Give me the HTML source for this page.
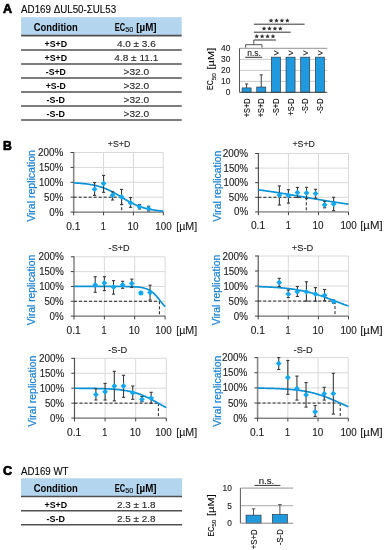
<!DOCTYPE html>
<html><head><meta charset="utf-8"><style>
html,body{margin:0;padding:0;background:#fff;}
svg{display:block;font-family:"Liberation Sans", sans-serif;filter:blur(0.35px);}
</style></head><body>
<svg width="386" height="550" viewBox="0 0 386 550">
<rect width="386" height="550" fill="#fff"/>
<text x="2.90" y="12.50" font-size="12.6" font-weight="bold" fill="#000" stroke="#000" stroke-width="0.7" stroke-linejoin="round">A</text>
<text x="3.00" y="149.90" font-size="12.2" font-weight="bold" fill="#000" stroke="#000" stroke-width="0.7" stroke-linejoin="round">B</text>
<text x="2.90" y="474.60" font-size="12.6" font-weight="bold" fill="#000" stroke="#000" stroke-width="0.7" stroke-linejoin="round">C</text>
<text x="21.10" y="13.20" font-size="10.2" textLength="95.00" lengthAdjust="spacingAndGlyphs" stroke="#262626" stroke-width="0.12">AD169 ΔUL50-ΣUL53</text>
<rect x="21.10" y="17.20" width="160.60" height="17.90" fill="#b3d5ee"/>
<line x1="21.10" y1="35.60" x2="181.70" y2="35.60" stroke="#505050" stroke-width="1.6"/>
<text x="55.75" y="30.70" font-size="10.3" font-weight="bold" text-anchor="middle" textLength="44.00" lengthAdjust="spacingAndGlyphs">Condition</text>
<text x="114.70" y="30.70" font-size="10.3" font-weight="bold" textLength="10.40" lengthAdjust="spacingAndGlyphs">EC</text>
<text x="125.20" y="31.60" font-size="7.0" textLength="8.00" lengthAdjust="spacingAndGlyphs" stroke="#262626" stroke-width="0.12">50</text>
<text x="136.30" y="30.70" font-size="10.3" font-weight="bold" textLength="20.20" lengthAdjust="spacingAndGlyphs">[µM]</text>
<text x="55.80" y="47.00" font-size="8.6" font-weight="bold" text-anchor="middle" textLength="22.60" lengthAdjust="spacingAndGlyphs">+S+D</text>
<text x="136.30" y="47.00" font-size="9.3" text-anchor="middle" fill="#262626" textLength="38.80" lengthAdjust="spacingAndGlyphs" stroke="#262626" stroke-width="0.12">4.0 ± 3.6</text>
<line x1="21.10" y1="49.90" x2="181.70" y2="49.90" stroke="#505050" stroke-width="1.5"/>
<text x="55.80" y="61.00" font-size="8.6" font-weight="bold" text-anchor="middle" textLength="22.60" lengthAdjust="spacingAndGlyphs">+S+D</text>
<text x="136.30" y="61.00" font-size="9.3" text-anchor="middle" fill="#262626" textLength="44.00" lengthAdjust="spacingAndGlyphs" stroke="#262626" stroke-width="0.12">4.8 ± 11.1</text>
<line x1="21.10" y1="63.90" x2="181.70" y2="63.90" stroke="#505050" stroke-width="1.5"/>
<text x="55.80" y="75.00" font-size="8.6" font-weight="bold" text-anchor="middle" textLength="20.10" lengthAdjust="spacingAndGlyphs">-S+D</text>
<text x="136.30" y="75.00" font-size="9.3" text-anchor="middle" fill="#262626" textLength="25.60" lengthAdjust="spacingAndGlyphs" stroke="#262626" stroke-width="0.12">&gt;32.0</text>
<line x1="21.10" y1="77.90" x2="181.70" y2="77.90" stroke="#505050" stroke-width="1.5"/>
<text x="55.80" y="89.00" font-size="8.6" font-weight="bold" text-anchor="middle" textLength="20.10" lengthAdjust="spacingAndGlyphs">+S-D</text>
<text x="136.30" y="89.00" font-size="9.3" text-anchor="middle" fill="#262626" textLength="25.60" lengthAdjust="spacingAndGlyphs" stroke="#262626" stroke-width="0.12">&gt;32.0</text>
<line x1="21.10" y1="91.90" x2="181.70" y2="91.90" stroke="#505050" stroke-width="1.5"/>
<text x="55.80" y="103.00" font-size="8.6" font-weight="bold" text-anchor="middle" textLength="18.40" lengthAdjust="spacingAndGlyphs">-S-D</text>
<text x="136.30" y="103.00" font-size="9.3" text-anchor="middle" fill="#262626" textLength="25.60" lengthAdjust="spacingAndGlyphs" stroke="#262626" stroke-width="0.12">&gt;32.0</text>
<line x1="21.10" y1="105.90" x2="181.70" y2="105.90" stroke="#505050" stroke-width="1.5"/>
<text x="55.80" y="117.00" font-size="8.6" font-weight="bold" text-anchor="middle" textLength="18.40" lengthAdjust="spacingAndGlyphs">-S-D</text>
<text x="136.30" y="117.00" font-size="9.3" text-anchor="middle" fill="#262626" textLength="25.60" lengthAdjust="spacingAndGlyphs" stroke="#262626" stroke-width="0.12">&gt;32.0</text>
<line x1="21.10" y1="119.90" x2="181.70" y2="119.90" stroke="#505050" stroke-width="1.5"/>
<text x="21.10" y="474.70" font-size="10.2" textLength="47.40" lengthAdjust="spacingAndGlyphs" stroke="#262626" stroke-width="0.12">AD169 WT</text>
<rect x="21.00" y="478.30" width="161.10" height="17.70" fill="#b3d5ee"/>
<line x1="21.00" y1="496.50" x2="182.10" y2="496.50" stroke="#505050" stroke-width="1.6"/>
<text x="55.75" y="491.60" font-size="10.3" font-weight="bold" text-anchor="middle" textLength="44.00" lengthAdjust="spacingAndGlyphs">Condition</text>
<text x="114.70" y="491.60" font-size="10.3" font-weight="bold" textLength="10.40" lengthAdjust="spacingAndGlyphs">EC</text>
<text x="125.20" y="492.50" font-size="7.0" textLength="8.00" lengthAdjust="spacingAndGlyphs" stroke="#262626" stroke-width="0.12">50</text>
<text x="136.30" y="491.60" font-size="10.3" font-weight="bold" textLength="20.20" lengthAdjust="spacingAndGlyphs">[µM]</text>
<text x="55.80" y="507.90" font-size="8.6" font-weight="bold" text-anchor="middle" textLength="22.60" lengthAdjust="spacingAndGlyphs">+S+D</text>
<text x="136.30" y="507.90" font-size="9.3" text-anchor="middle" fill="#262626" textLength="38.60" lengthAdjust="spacingAndGlyphs" stroke="#262626" stroke-width="0.12">2.3 ± 1.8</text>
<line x1="21.00" y1="510.80" x2="182.10" y2="510.80" stroke="#505050" stroke-width="1.5"/>
<text x="55.80" y="521.90" font-size="8.6" font-weight="bold" text-anchor="middle" textLength="18.40" lengthAdjust="spacingAndGlyphs">-S-D</text>
<text x="136.30" y="521.90" font-size="9.3" text-anchor="middle" fill="#262626" textLength="38.60" lengthAdjust="spacingAndGlyphs" stroke="#262626" stroke-width="0.12">2.5 ± 2.8</text>
<line x1="21.00" y1="524.80" x2="182.10" y2="524.80" stroke="#505050" stroke-width="1.5"/>
<line x1="239.50" y1="81.33" x2="327.20" y2="81.33" stroke="#c8c8c8" stroke-width="1"/>
<line x1="239.50" y1="70.35" x2="327.20" y2="70.35" stroke="#c8c8c8" stroke-width="1"/>
<line x1="239.50" y1="59.38" x2="327.20" y2="59.38" stroke="#c8c8c8" stroke-width="1"/>
<line x1="239.50" y1="48.40" x2="327.20" y2="48.40" stroke="#a8a8a8" stroke-width="1.4"/>
<text x="230.40" y="95.20" font-size="8.4" text-anchor="end" fill="#202020" stroke="#262626" stroke-width="0.12">0</text>
<text x="230.40" y="84.23" font-size="8.4" text-anchor="end" fill="#202020" stroke="#262626" stroke-width="0.12">10</text>
<text x="230.40" y="73.25" font-size="8.4" text-anchor="end" fill="#202020" stroke="#262626" stroke-width="0.12">20</text>
<text x="230.40" y="62.27" font-size="8.4" text-anchor="end" fill="#202020" stroke="#262626" stroke-width="0.12">30</text>
<text x="230.40" y="51.30" font-size="8.4" text-anchor="end" fill="#202020" stroke="#262626" stroke-width="0.12">40</text>
<text transform="translate(213.30,89.90) rotate(-90)" font-size="9.9" textLength="9.60" lengthAdjust="spacingAndGlyphs" stroke="#262626" stroke-width="0.12">EC</text>
<text transform="translate(215.60,80.30) rotate(-90)" font-size="6.0" textLength="7.20" lengthAdjust="spacingAndGlyphs" stroke="#262626" stroke-width="0.12">50</text>
<text transform="translate(213.60,69.50) rotate(-90)" font-size="9.5" textLength="21.70" lengthAdjust="spacingAndGlyphs" stroke="#262626" stroke-width="0.12">[µM]</text>
<line x1="246.60" y1="87.91" x2="246.60" y2="83.96" stroke="#404040" stroke-width="1"/>
<line x1="245.00" y1="83.96" x2="248.20" y2="83.96" stroke="#404040" stroke-width="1"/>
<rect x="242.10" y="87.91" width="9" height="4.39" fill="#1f9ade" stroke="#2a3b4c" stroke-width="0.7"/>
<text transform="translate(249.80,98.50) rotate(-90)" font-size="8.5" text-anchor="end" textLength="18.80" lengthAdjust="spacingAndGlyphs" stroke="#262626" stroke-width="0.12">+S+D</text>
<line x1="261.25" y1="87.03" x2="261.25" y2="74.85" stroke="#404040" stroke-width="1"/>
<line x1="259.65" y1="74.85" x2="262.85" y2="74.85" stroke="#404040" stroke-width="1"/>
<rect x="256.75" y="87.03" width="9" height="5.27" fill="#1f9ade" stroke="#2a3b4c" stroke-width="0.7"/>
<text transform="translate(264.45,98.50) rotate(-90)" font-size="8.5" text-anchor="end" textLength="18.80" lengthAdjust="spacingAndGlyphs" stroke="#262626" stroke-width="0.12">+S+D</text>
<rect x="271.40" y="57.18" width="9" height="35.12" fill="#1f9ade" stroke="#2a3b4c" stroke-width="0.7"/>
<text transform="translate(279.10,98.50) rotate(-90)" font-size="8.5" text-anchor="end" textLength="17.00" lengthAdjust="spacingAndGlyphs" stroke="#262626" stroke-width="0.12">-S+D</text>
<text x="276.30" y="55.80" font-size="8.6" text-anchor="middle" fill="#202020" textLength="5.20" lengthAdjust="spacingAndGlyphs" stroke="#262626" stroke-width="0.12">&gt;</text>
<rect x="286.05" y="57.18" width="9" height="35.12" fill="#1f9ade" stroke="#2a3b4c" stroke-width="0.7"/>
<text transform="translate(293.75,98.50) rotate(-90)" font-size="8.5" text-anchor="end" textLength="17.00" lengthAdjust="spacingAndGlyphs" stroke="#262626" stroke-width="0.12">+S-D</text>
<text x="290.95" y="55.80" font-size="8.6" text-anchor="middle" fill="#202020" textLength="5.20" lengthAdjust="spacingAndGlyphs" stroke="#262626" stroke-width="0.12">&gt;</text>
<rect x="300.70" y="57.18" width="9" height="35.12" fill="#1f9ade" stroke="#2a3b4c" stroke-width="0.7"/>
<text transform="translate(308.40,98.50) rotate(-90)" font-size="8.5" text-anchor="end" textLength="15.00" lengthAdjust="spacingAndGlyphs" stroke="#262626" stroke-width="0.12">-S-D</text>
<text x="305.60" y="55.80" font-size="8.6" text-anchor="middle" fill="#202020" textLength="5.20" lengthAdjust="spacingAndGlyphs" stroke="#262626" stroke-width="0.12">&gt;</text>
<rect x="315.35" y="57.18" width="9" height="35.12" fill="#1f9ade" stroke="#2a3b4c" stroke-width="0.7"/>
<text transform="translate(323.05,98.50) rotate(-90)" font-size="8.5" text-anchor="end" textLength="15.00" lengthAdjust="spacingAndGlyphs" stroke="#262626" stroke-width="0.12">-S-D</text>
<text x="320.25" y="55.80" font-size="8.6" text-anchor="middle" fill="#202020" textLength="5.20" lengthAdjust="spacingAndGlyphs" stroke="#262626" stroke-width="0.12">&gt;</text>
<line x1="239.50" y1="48.40" x2="239.50" y2="92.30" stroke="#555" stroke-width="1"/>
<line x1="239.50" y1="92.30" x2="327.20" y2="92.30" stroke="#404040" stroke-width="1"/>
<text x="254.00" y="55.90" font-size="8.6" text-anchor="middle" fill="#202020" textLength="13.60" lengthAdjust="spacingAndGlyphs" stroke="#262626" stroke-width="0.12">n.s.</text>
<line x1="245.20" y1="57.30" x2="262.20" y2="57.30" stroke="#333" stroke-width="1"/>
<path d="M245.6,47.6 V44.7 H262.0 V47.6 M253.8,44.7 V40" fill="none" stroke="#444" stroke-width="0.9"/>
<line x1="253.80" y1="40.00" x2="275.90" y2="40.00" stroke="#333" stroke-width="1"/>
<polygon points="256.70,34.00 257.41,35.43 258.98,35.66 257.84,36.77 258.11,38.34 256.70,37.60 255.29,38.34 255.56,36.77 254.42,35.66 255.99,35.43" fill="#333"/>
<polygon points="262.13,34.00 262.84,35.43 264.41,35.66 263.27,36.77 263.54,38.34 262.13,37.60 260.72,38.34 260.99,36.77 259.85,35.66 261.42,35.43" fill="#333"/>
<polygon points="267.56,34.00 268.27,35.43 269.84,35.66 268.70,36.77 268.97,38.34 267.56,37.60 266.15,38.34 266.42,36.77 265.28,35.66 266.85,35.43" fill="#333"/>
<polygon points="272.99,34.00 273.70,35.43 275.27,35.66 274.13,36.77 274.40,38.34 272.99,37.60 271.58,38.34 271.85,36.77 270.71,35.66 272.28,35.43" fill="#333"/>
<line x1="253.80" y1="32.20" x2="290.60" y2="32.20" stroke="#333" stroke-width="1"/>
<polygon points="264.05,26.20 264.76,27.63 266.33,27.86 265.19,28.97 265.46,30.54 264.05,29.80 262.64,30.54 262.91,28.97 261.77,27.86 263.34,27.63" fill="#333"/>
<polygon points="269.48,26.20 270.19,27.63 271.76,27.86 270.62,28.97 270.89,30.54 269.48,29.80 268.07,30.54 268.34,28.97 267.20,27.86 268.77,27.63" fill="#333"/>
<polygon points="274.91,26.20 275.62,27.63 277.19,27.86 276.05,28.97 276.32,30.54 274.91,29.80 273.50,30.54 273.77,28.97 272.63,27.86 274.20,27.63" fill="#333"/>
<polygon points="280.34,26.20 281.05,27.63 282.62,27.86 281.48,28.97 281.75,30.54 280.34,29.80 278.93,30.54 279.20,28.97 278.06,27.86 279.63,27.63" fill="#333"/>
<line x1="253.80" y1="24.20" x2="304.60" y2="24.20" stroke="#333" stroke-width="1"/>
<polygon points="271.05,18.20 271.76,19.63 273.33,19.86 272.19,20.97 272.46,22.54 271.05,21.80 269.64,22.54 269.91,20.97 268.77,19.86 270.34,19.63" fill="#333"/>
<polygon points="276.48,18.20 277.19,19.63 278.76,19.86 277.62,20.97 277.89,22.54 276.48,21.80 275.07,22.54 275.34,20.97 274.20,19.86 275.77,19.63" fill="#333"/>
<polygon points="281.91,18.20 282.62,19.63 284.19,19.86 283.05,20.97 283.32,22.54 281.91,21.80 280.50,22.54 280.77,20.97 279.63,19.86 281.20,19.63" fill="#333"/>
<polygon points="287.34,18.20 288.05,19.63 289.62,19.86 288.48,20.97 288.75,22.54 287.34,21.80 285.93,22.54 286.20,20.97 285.06,19.86 286.63,19.63" fill="#333"/>
<line x1="240.40" y1="505.70" x2="293.10" y2="505.70" stroke="#a8a8a8" stroke-width="1"/>
<line x1="240.40" y1="488.20" x2="293.10" y2="488.20" stroke="#a8a8a8" stroke-width="1.2"/>
<text x="231.90" y="526.10" font-size="8.4" text-anchor="end" fill="#202020" stroke="#262626" stroke-width="0.12">0</text>
<text x="231.90" y="508.60" font-size="8.4" text-anchor="end" fill="#202020" stroke="#262626" stroke-width="0.12">5</text>
<text x="231.90" y="491.10" font-size="8.4" text-anchor="end" fill="#202020" stroke="#262626" stroke-width="0.12">10</text>
<text transform="translate(213.90,536.40) rotate(-90)" font-size="9.9" textLength="9.60" lengthAdjust="spacingAndGlyphs" stroke="#262626" stroke-width="0.12">EC</text>
<text transform="translate(216.20,526.80) rotate(-90)" font-size="6.0" textLength="7.20" lengthAdjust="spacingAndGlyphs" stroke="#262626" stroke-width="0.12">50</text>
<text transform="translate(214.20,516.00) rotate(-90)" font-size="9.5" textLength="21.70" lengthAdjust="spacingAndGlyphs" stroke="#262626" stroke-width="0.12">[µM]</text>
<line x1="253.55" y1="515.15" x2="253.55" y2="508.85" stroke="#505050" stroke-width="1"/>
<line x1="251.75" y1="508.85" x2="255.35" y2="508.85" stroke="#505050" stroke-width="1"/>
<rect x="246.05" y="515.15" width="15" height="8.05" fill="#1f9ade" stroke="#2a3b4c" stroke-width="0.7"/>
<text transform="translate(256.85,529.30) rotate(-90)" font-size="8.6" text-anchor="end" textLength="20.00" lengthAdjust="spacingAndGlyphs" stroke="#262626" stroke-width="0.12">+S+D</text>
<line x1="279.90" y1="514.45" x2="279.90" y2="504.65" stroke="#505050" stroke-width="1"/>
<line x1="278.10" y1="504.65" x2="281.70" y2="504.65" stroke="#505050" stroke-width="1"/>
<rect x="272.40" y="514.45" width="15" height="8.75" fill="#1f9ade" stroke="#2a3b4c" stroke-width="0.7"/>
<text transform="translate(283.20,529.30) rotate(-90)" font-size="8.6" text-anchor="end" textLength="15.80" lengthAdjust="spacingAndGlyphs" stroke="#262626" stroke-width="0.12">-S-D</text>
<line x1="240.40" y1="488.20" x2="240.40" y2="523.20" stroke="#555" stroke-width="1"/>
<line x1="240.40" y1="523.20" x2="293.10" y2="523.20" stroke="#888" stroke-width="1"/>
<text x="266.50" y="483.80" font-size="8.6" text-anchor="middle" fill="#202020" textLength="15.60" lengthAdjust="spacingAndGlyphs" stroke="#262626" stroke-width="0.12">n.s.</text>
<line x1="254.40" y1="485.40" x2="280.40" y2="485.40" stroke="#333" stroke-width="1"/>
<line x1="73.70" y1="197.20" x2="163.30" y2="197.20" stroke="#d9d9d9" stroke-width="1"/>
<line x1="73.70" y1="182.30" x2="163.30" y2="182.30" stroke="#d9d9d9" stroke-width="1"/>
<line x1="73.70" y1="167.40" x2="163.30" y2="167.40" stroke="#d9d9d9" stroke-width="1"/>
<line x1="73.70" y1="152.50" x2="163.30" y2="152.50" stroke="#d9d9d9" stroke-width="1"/>
<line x1="103.57" y1="152.50" x2="103.57" y2="212.10" stroke="#d9d9d9" stroke-width="1"/>
<line x1="133.43" y1="152.50" x2="133.43" y2="212.10" stroke="#d9d9d9" stroke-width="1"/>
<line x1="163.30" y1="152.50" x2="163.30" y2="212.10" stroke="#d9d9d9" stroke-width="1"/>
<line x1="73.70" y1="152.00" x2="73.70" y2="212.60" stroke="#8a8a8a" stroke-width="1.6"/>
<line x1="73.70" y1="212.10" x2="163.30" y2="212.10" stroke="#4a4a4a" stroke-width="1.0"/>
<line x1="70.50" y1="212.10" x2="73.70" y2="212.10" stroke="#404040" stroke-width="1"/>
<line x1="70.50" y1="197.20" x2="73.70" y2="197.20" stroke="#404040" stroke-width="1"/>
<line x1="70.50" y1="182.30" x2="73.70" y2="182.30" stroke="#404040" stroke-width="1"/>
<line x1="70.50" y1="167.40" x2="73.70" y2="167.40" stroke="#404040" stroke-width="1"/>
<line x1="70.50" y1="152.50" x2="73.70" y2="152.50" stroke="#404040" stroke-width="1"/>
<line x1="73.70" y1="212.10" x2="73.70" y2="215.40" stroke="#404040" stroke-width="1"/>
<line x1="103.57" y1="212.10" x2="103.57" y2="215.40" stroke="#404040" stroke-width="1"/>
<line x1="133.43" y1="212.10" x2="133.43" y2="215.40" stroke="#404040" stroke-width="1"/>
<line x1="163.30" y1="212.10" x2="163.30" y2="215.40" stroke="#404040" stroke-width="1"/>
<text x="63.40" y="215.60" font-size="10.0" text-anchor="end" fill="#202020" textLength="14.10" lengthAdjust="spacingAndGlyphs" stroke="#262626" stroke-width="0.12">0%</text>
<text x="63.40" y="200.70" font-size="10.0" text-anchor="end" fill="#202020" textLength="19.30" lengthAdjust="spacingAndGlyphs" stroke="#262626" stroke-width="0.12">50%</text>
<text x="63.40" y="185.80" font-size="10.0" text-anchor="end" fill="#202020" textLength="24.50" lengthAdjust="spacingAndGlyphs" stroke="#262626" stroke-width="0.12">100%</text>
<text x="63.40" y="170.90" font-size="10.0" text-anchor="end" fill="#202020" textLength="24.50" lengthAdjust="spacingAndGlyphs" stroke="#262626" stroke-width="0.12">150%</text>
<text x="63.40" y="156.00" font-size="10.0" text-anchor="end" fill="#202020" textLength="25.30" lengthAdjust="spacingAndGlyphs" stroke="#262626" stroke-width="0.12">200%</text>
<text x="73.30" y="229.50" font-size="10.0" text-anchor="middle" fill="#202020" textLength="14.20" lengthAdjust="spacingAndGlyphs" stroke="#262626" stroke-width="0.12">0.1</text>
<text x="103.27" y="229.50" font-size="10.0" text-anchor="middle" fill="#202020" textLength="5.00" lengthAdjust="spacingAndGlyphs" stroke="#262626" stroke-width="0.12">1</text>
<text x="133.03" y="229.50" font-size="10.0" text-anchor="middle" fill="#202020" textLength="11.00" lengthAdjust="spacingAndGlyphs" stroke="#262626" stroke-width="0.12">10</text>
<text x="163.50" y="229.50" font-size="10.0" text-anchor="middle" fill="#202020" textLength="16.40" lengthAdjust="spacingAndGlyphs" stroke="#262626" stroke-width="0.12">100</text>
<text x="176.20" y="229.50" font-size="10.0" fill="#202020" textLength="21.00" lengthAdjust="spacingAndGlyphs" stroke="#262626" stroke-width="0.12">[µM]</text>
<text x="119.00" y="147.10" font-size="9.8" text-anchor="middle" fill="#202020" textLength="22.50" lengthAdjust="spacingAndGlyphs" stroke="#262626" stroke-width="0.12">+S+D</text>
<text transform="translate(34.70,185.95) rotate(-90)" font-size="10.2" text-anchor="middle" fill="#1a80d2" textLength="71.70" lengthAdjust="spacingAndGlyphs" stroke="#1a80d2" stroke-width="0.2">Viral replication</text>
<line x1="73.70" y1="197.20" x2="121.70" y2="197.20" stroke="#222" stroke-width="1" stroke-dasharray="3,2"/>
<line x1="121.70" y1="197.20" x2="121.70" y2="212.10" stroke="#222" stroke-width="1" stroke-dasharray="3,2"/>
<polyline points="73.70,182.91 74.45,182.94 75.19,182.98 75.94,183.02 76.69,183.07 77.43,183.12 78.18,183.16 78.93,183.22 79.67,183.27 80.42,183.33 81.17,183.39 81.91,183.46 82.66,183.53 83.41,183.60 84.15,183.68 84.90,183.76 85.65,183.85 86.39,183.94 87.14,184.03 87.89,184.13 88.63,184.24 89.38,184.35 90.13,184.47 90.87,184.60 91.62,184.73 92.37,184.87 93.11,185.01 93.86,185.16 94.61,185.32 95.35,185.49 96.10,185.67 96.85,185.85 97.59,186.05 98.34,186.25 99.09,186.46 99.83,186.68 100.58,186.91 101.33,187.15 102.07,187.40 102.82,187.67 103.57,187.94 104.31,188.22 105.06,188.51 105.81,188.81 106.55,189.12 107.30,189.45 108.05,189.78 108.79,190.13 109.54,190.48 110.29,190.84 111.03,191.22 111.78,191.60 112.53,191.99 113.27,192.39 114.02,192.80 114.77,193.21 115.51,193.63 116.26,194.06 117.01,194.49 117.75,194.93 118.50,195.37 119.25,195.82 119.99,196.26 120.74,196.71 121.49,197.16 122.23,197.61 122.98,198.06 123.73,198.51 124.47,198.96 125.22,199.40 125.97,199.84 126.71,200.27 127.46,200.70 128.21,201.12 128.95,201.54 129.70,201.95 130.45,202.35 131.19,202.74 131.94,203.12 132.69,203.50 133.43,203.86 134.18,204.22 134.93,204.56 135.67,204.90 136.42,205.22 137.17,205.54 137.91,205.84 138.66,206.13 139.41,206.42 140.15,206.69 140.90,206.95 141.65,207.21 142.39,207.45 143.14,207.68 143.89,207.90 144.63,208.12 145.38,208.32 146.13,208.52 146.87,208.70 147.62,208.88 148.37,209.05 149.11,209.21 149.86,209.36 150.61,209.51 151.35,209.65 152.10,209.78 152.85,209.91 153.59,210.03 154.34,210.14 155.09,210.25 155.83,210.35 156.58,210.45 157.33,210.54 158.07,210.63 158.82,210.71 159.57,210.79 160.31,210.86 161.06,210.93 161.81,211.00 162.55,211.06 163.30,211.12" fill="none" stroke="#0b93d8" stroke-width="1.7"/>
<line x1="94.58" y1="182.60" x2="94.58" y2="195.40" stroke="#3a3a3a" stroke-width="1.1"/>
<line x1="92.98" y1="182.60" x2="96.18" y2="182.60" stroke="#3a3a3a" stroke-width="1.1"/>
<line x1="92.98" y1="195.40" x2="96.18" y2="195.40" stroke="#3a3a3a" stroke-width="1.1"/>
<polygon points="94.58,186.30 97.48,189.20 94.58,192.10 91.68,189.20" fill="#12a7ee"/>
<line x1="103.57" y1="175.40" x2="103.57" y2="192.30" stroke="#3a3a3a" stroke-width="1.1"/>
<line x1="101.97" y1="175.40" x2="105.17" y2="175.40" stroke="#3a3a3a" stroke-width="1.1"/>
<line x1="101.97" y1="192.30" x2="105.17" y2="192.30" stroke="#3a3a3a" stroke-width="1.1"/>
<polygon points="103.57,180.60 106.47,183.50 103.57,186.40 100.67,183.50" fill="#12a7ee"/>
<line x1="112.56" y1="191.80" x2="112.56" y2="200.00" stroke="#3a3a3a" stroke-width="1.1"/>
<line x1="110.96" y1="191.80" x2="114.16" y2="191.80" stroke="#3a3a3a" stroke-width="1.1"/>
<line x1="110.96" y1="200.00" x2="114.16" y2="200.00" stroke="#3a3a3a" stroke-width="1.1"/>
<polygon points="112.56,192.30 115.46,195.20 112.56,198.10 109.66,195.20" fill="#12a7ee"/>
<line x1="121.55" y1="189.40" x2="121.55" y2="204.60" stroke="#3a3a3a" stroke-width="1.1"/>
<line x1="119.95" y1="189.40" x2="123.15" y2="189.40" stroke="#3a3a3a" stroke-width="1.1"/>
<line x1="119.95" y1="204.60" x2="123.15" y2="204.60" stroke="#3a3a3a" stroke-width="1.1"/>
<polygon points="121.55,194.00 124.45,196.90 121.55,199.80 118.65,196.90" fill="#12a7ee"/>
<line x1="130.54" y1="197.60" x2="130.54" y2="207.30" stroke="#3a3a3a" stroke-width="1.1"/>
<line x1="128.94" y1="197.60" x2="132.14" y2="197.60" stroke="#3a3a3a" stroke-width="1.1"/>
<line x1="128.94" y1="207.30" x2="132.14" y2="207.30" stroke="#3a3a3a" stroke-width="1.1"/>
<polygon points="130.54,199.90 133.44,202.80 130.54,205.70 127.64,202.80" fill="#12a7ee"/>
<line x1="139.53" y1="204.50" x2="139.53" y2="209.00" stroke="#3a3a3a" stroke-width="1.1"/>
<line x1="137.93" y1="204.50" x2="141.13" y2="204.50" stroke="#3a3a3a" stroke-width="1.1"/>
<line x1="137.93" y1="209.00" x2="141.13" y2="209.00" stroke="#3a3a3a" stroke-width="1.1"/>
<polygon points="139.53,203.90 142.43,206.80 139.53,209.70 136.63,206.80" fill="#12a7ee"/>
<line x1="148.52" y1="206.20" x2="148.52" y2="210.90" stroke="#3a3a3a" stroke-width="1.1"/>
<line x1="146.92" y1="206.20" x2="150.12" y2="206.20" stroke="#3a3a3a" stroke-width="1.1"/>
<line x1="146.92" y1="210.90" x2="150.12" y2="210.90" stroke="#3a3a3a" stroke-width="1.1"/>
<polygon points="148.52,205.70 151.42,208.60 148.52,211.50 145.62,208.60" fill="#12a7ee"/>
<line x1="258.40" y1="197.30" x2="348.50" y2="197.30" stroke="#d9d9d9" stroke-width="1"/>
<line x1="258.40" y1="182.70" x2="348.50" y2="182.70" stroke="#d9d9d9" stroke-width="1"/>
<line x1="258.40" y1="168.10" x2="348.50" y2="168.10" stroke="#d9d9d9" stroke-width="1"/>
<line x1="258.40" y1="153.50" x2="348.50" y2="153.50" stroke="#d9d9d9" stroke-width="1"/>
<line x1="288.43" y1="153.50" x2="288.43" y2="211.90" stroke="#d9d9d9" stroke-width="1"/>
<line x1="318.47" y1="153.50" x2="318.47" y2="211.90" stroke="#d9d9d9" stroke-width="1"/>
<line x1="348.50" y1="153.50" x2="348.50" y2="211.90" stroke="#d9d9d9" stroke-width="1"/>
<line x1="258.40" y1="153.00" x2="258.40" y2="212.40" stroke="#4a4a4a" stroke-width="1.1"/>
<line x1="258.40" y1="211.90" x2="348.50" y2="211.90" stroke="#a0a0a0" stroke-width="1.7"/>
<line x1="255.20" y1="211.90" x2="258.40" y2="211.90" stroke="#404040" stroke-width="1"/>
<line x1="255.20" y1="197.30" x2="258.40" y2="197.30" stroke="#404040" stroke-width="1"/>
<line x1="255.20" y1="182.70" x2="258.40" y2="182.70" stroke="#404040" stroke-width="1"/>
<line x1="255.20" y1="168.10" x2="258.40" y2="168.10" stroke="#404040" stroke-width="1"/>
<line x1="255.20" y1="153.50" x2="258.40" y2="153.50" stroke="#404040" stroke-width="1"/>
<line x1="258.40" y1="211.90" x2="258.40" y2="215.20" stroke="#404040" stroke-width="1"/>
<line x1="288.43" y1="211.90" x2="288.43" y2="215.20" stroke="#404040" stroke-width="1"/>
<line x1="318.47" y1="211.90" x2="318.47" y2="215.20" stroke="#404040" stroke-width="1"/>
<line x1="348.50" y1="211.90" x2="348.50" y2="215.20" stroke="#404040" stroke-width="1"/>
<text x="248.10" y="215.40" font-size="10.0" text-anchor="end" fill="#202020" textLength="14.10" lengthAdjust="spacingAndGlyphs" stroke="#262626" stroke-width="0.12">0%</text>
<text x="248.10" y="200.80" font-size="10.0" text-anchor="end" fill="#202020" textLength="19.30" lengthAdjust="spacingAndGlyphs" stroke="#262626" stroke-width="0.12">50%</text>
<text x="248.10" y="186.20" font-size="10.0" text-anchor="end" fill="#202020" textLength="24.50" lengthAdjust="spacingAndGlyphs" stroke="#262626" stroke-width="0.12">100%</text>
<text x="248.10" y="171.60" font-size="10.0" text-anchor="end" fill="#202020" textLength="24.50" lengthAdjust="spacingAndGlyphs" stroke="#262626" stroke-width="0.12">150%</text>
<text x="248.10" y="157.00" font-size="10.0" text-anchor="end" fill="#202020" textLength="25.30" lengthAdjust="spacingAndGlyphs" stroke="#262626" stroke-width="0.12">200%</text>
<text x="258.00" y="229.30" font-size="10.0" text-anchor="middle" fill="#202020" textLength="14.20" lengthAdjust="spacingAndGlyphs" stroke="#262626" stroke-width="0.12">0.1</text>
<text x="288.13" y="229.30" font-size="10.0" text-anchor="middle" fill="#202020" textLength="5.00" lengthAdjust="spacingAndGlyphs" stroke="#262626" stroke-width="0.12">1</text>
<text x="318.07" y="229.30" font-size="10.0" text-anchor="middle" fill="#202020" textLength="11.00" lengthAdjust="spacingAndGlyphs" stroke="#262626" stroke-width="0.12">10</text>
<text x="348.60" y="229.30" font-size="10.0" text-anchor="middle" fill="#202020" textLength="16.40" lengthAdjust="spacingAndGlyphs" stroke="#262626" stroke-width="0.12">100</text>
<text x="360.20" y="229.30" font-size="10.0" fill="#202020" textLength="22.40" lengthAdjust="spacingAndGlyphs" stroke="#262626" stroke-width="0.12">[µM]</text>
<text x="303.70" y="147.10" font-size="9.8" text-anchor="middle" fill="#202020" textLength="22.50" lengthAdjust="spacingAndGlyphs" stroke="#262626" stroke-width="0.12">+S+D</text>
<text transform="translate(220.50,186.20) rotate(-90)" font-size="10.2" text-anchor="middle" fill="#1a80d2" textLength="71.20" lengthAdjust="spacingAndGlyphs" stroke="#1a80d2" stroke-width="0.2">Viral replication</text>
<line x1="258.40" y1="197.30" x2="306.30" y2="197.30" stroke="#222" stroke-width="1" stroke-dasharray="3,2"/>
<line x1="306.30" y1="197.30" x2="306.30" y2="211.90" stroke="#222" stroke-width="1" stroke-dasharray="3,2"/>
<polyline points="258.40,189.86 259.15,189.96 259.90,190.06 260.65,190.16 261.40,190.26 262.15,190.36 262.90,190.46 263.66,190.56 264.41,190.66 265.16,190.77 265.91,190.87 266.66,190.98 267.41,191.08 268.16,191.19 268.91,191.30 269.66,191.41 270.41,191.52 271.16,191.63 271.91,191.74 272.67,191.85 273.42,191.96 274.17,192.08 274.92,192.19 275.67,192.30 276.42,192.42 277.17,192.54 277.92,192.65 278.67,192.77 279.42,192.89 280.17,193.01 280.93,193.13 281.68,193.25 282.43,193.37 283.18,193.49 283.93,193.61 284.68,193.73 285.43,193.85 286.18,193.98 286.93,194.10 287.68,194.23 288.43,194.35 289.18,194.48 289.94,194.60 290.69,194.73 291.44,194.85 292.19,194.98 292.94,195.11 293.69,195.23 294.44,195.36 295.19,195.49 295.94,195.62 296.69,195.75 297.44,195.88 298.19,196.01 298.94,196.14 299.70,196.26 300.45,196.39 301.20,196.52 301.95,196.65 302.70,196.78 303.45,196.91 304.20,197.04 304.95,197.17 305.70,197.31 306.45,197.44 307.20,197.57 307.95,197.70 308.71,197.83 309.46,197.96 310.21,198.09 310.96,198.22 311.71,198.35 312.46,198.47 313.21,198.60 313.96,198.73 314.71,198.86 315.46,198.99 316.21,199.12 316.96,199.25 317.72,199.38 318.47,199.50 319.22,199.63 319.97,199.76 320.72,199.88 321.47,200.01 322.22,200.13 322.97,200.26 323.72,200.38 324.47,200.51 325.22,200.63 325.98,200.76 326.73,200.88 327.48,201.00 328.23,201.12 328.98,201.24 329.73,201.36 330.48,201.48 331.23,201.60 331.98,201.72 332.73,201.84 333.48,201.96 334.23,202.07 334.99,202.19 335.74,202.30 336.49,202.42 337.24,202.53 337.99,202.65 338.74,202.76 339.49,202.87 340.24,202.98 340.99,203.09 341.74,203.20 342.49,203.31 343.24,203.42 344.00,203.52 344.75,203.63 345.50,203.74 346.25,203.84 347.00,203.94 347.75,204.05 348.50,204.15" fill="none" stroke="#0b93d8" stroke-width="1.7"/>
<line x1="279.39" y1="185.90" x2="279.39" y2="205.00" stroke="#3a3a3a" stroke-width="1.1"/>
<line x1="277.79" y1="185.90" x2="280.99" y2="185.90" stroke="#3a3a3a" stroke-width="1.1"/>
<line x1="277.79" y1="205.00" x2="280.99" y2="205.00" stroke="#3a3a3a" stroke-width="1.1"/>
<polygon points="279.39,192.30 282.29,195.20 279.39,198.10 276.49,195.20" fill="#12a7ee"/>
<line x1="288.43" y1="189.70" x2="288.43" y2="203.10" stroke="#3a3a3a" stroke-width="1.1"/>
<line x1="286.83" y1="189.70" x2="290.03" y2="189.70" stroke="#3a3a3a" stroke-width="1.1"/>
<line x1="286.83" y1="203.10" x2="290.03" y2="203.10" stroke="#3a3a3a" stroke-width="1.1"/>
<polygon points="288.43,192.70 291.33,195.60 288.43,198.50 285.53,195.60" fill="#12a7ee"/>
<line x1="297.47" y1="187.40" x2="297.47" y2="197.40" stroke="#3a3a3a" stroke-width="1.1"/>
<line x1="295.87" y1="187.40" x2="299.07" y2="187.40" stroke="#3a3a3a" stroke-width="1.1"/>
<line x1="295.87" y1="197.40" x2="299.07" y2="197.40" stroke="#3a3a3a" stroke-width="1.1"/>
<polygon points="297.47,189.70 300.37,192.60 297.47,195.50 294.57,192.60" fill="#12a7ee"/>
<line x1="306.52" y1="187.30" x2="306.52" y2="198.60" stroke="#3a3a3a" stroke-width="1.1"/>
<line x1="304.92" y1="187.30" x2="308.12" y2="187.30" stroke="#3a3a3a" stroke-width="1.1"/>
<line x1="304.92" y1="198.60" x2="308.12" y2="198.60" stroke="#3a3a3a" stroke-width="1.1"/>
<polygon points="306.52,190.10 309.42,193.00 306.52,195.90 303.62,193.00" fill="#12a7ee"/>
<line x1="315.56" y1="189.30" x2="315.56" y2="198.20" stroke="#3a3a3a" stroke-width="1.1"/>
<line x1="313.96" y1="189.30" x2="317.16" y2="189.30" stroke="#3a3a3a" stroke-width="1.1"/>
<line x1="313.96" y1="198.20" x2="317.16" y2="198.20" stroke="#3a3a3a" stroke-width="1.1"/>
<polygon points="315.56,190.70 318.46,193.60 315.56,196.50 312.66,193.60" fill="#12a7ee"/>
<line x1="324.60" y1="201.30" x2="324.60" y2="207.80" stroke="#3a3a3a" stroke-width="1.1"/>
<line x1="323.00" y1="201.30" x2="326.20" y2="201.30" stroke="#3a3a3a" stroke-width="1.1"/>
<line x1="323.00" y1="207.80" x2="326.20" y2="207.80" stroke="#3a3a3a" stroke-width="1.1"/>
<polygon points="324.60,201.90 327.50,204.80 324.60,207.70 321.70,204.80" fill="#12a7ee"/>
<line x1="333.64" y1="197.30" x2="333.64" y2="210.70" stroke="#3a3a3a" stroke-width="1.1"/>
<line x1="332.04" y1="197.30" x2="335.24" y2="197.30" stroke="#3a3a3a" stroke-width="1.1"/>
<line x1="332.04" y1="210.70" x2="335.24" y2="210.70" stroke="#3a3a3a" stroke-width="1.1"/>
<polygon points="333.64,201.10 336.54,204.00 333.64,206.90 330.74,204.00" fill="#12a7ee"/>
<line x1="74.00" y1="301.28" x2="165.10" y2="301.28" stroke="#d9d9d9" stroke-width="1"/>
<line x1="74.00" y1="286.45" x2="165.10" y2="286.45" stroke="#d9d9d9" stroke-width="1"/>
<line x1="74.00" y1="271.62" x2="165.10" y2="271.62" stroke="#d9d9d9" stroke-width="1"/>
<line x1="74.00" y1="256.80" x2="165.10" y2="256.80" stroke="#d9d9d9" stroke-width="1"/>
<line x1="104.37" y1="256.80" x2="104.37" y2="316.10" stroke="#d9d9d9" stroke-width="1"/>
<line x1="134.73" y1="256.80" x2="134.73" y2="316.10" stroke="#d9d9d9" stroke-width="1"/>
<line x1="165.10" y1="256.80" x2="165.10" y2="316.10" stroke="#d9d9d9" stroke-width="1"/>
<line x1="74.00" y1="256.30" x2="74.00" y2="316.60" stroke="#999999" stroke-width="1.8"/>
<line x1="74.00" y1="316.10" x2="165.10" y2="316.10" stroke="#4a4a4a" stroke-width="1.0"/>
<line x1="70.80" y1="316.10" x2="74.00" y2="316.10" stroke="#404040" stroke-width="1"/>
<line x1="70.80" y1="301.28" x2="74.00" y2="301.28" stroke="#404040" stroke-width="1"/>
<line x1="70.80" y1="286.45" x2="74.00" y2="286.45" stroke="#404040" stroke-width="1"/>
<line x1="70.80" y1="271.62" x2="74.00" y2="271.62" stroke="#404040" stroke-width="1"/>
<line x1="70.80" y1="256.80" x2="74.00" y2="256.80" stroke="#404040" stroke-width="1"/>
<line x1="74.00" y1="316.10" x2="74.00" y2="319.40" stroke="#404040" stroke-width="1"/>
<line x1="104.37" y1="316.10" x2="104.37" y2="319.40" stroke="#404040" stroke-width="1"/>
<line x1="134.73" y1="316.10" x2="134.73" y2="319.40" stroke="#404040" stroke-width="1"/>
<line x1="165.10" y1="316.10" x2="165.10" y2="319.40" stroke="#404040" stroke-width="1"/>
<text x="63.70" y="319.60" font-size="10.0" text-anchor="end" fill="#202020" textLength="14.10" lengthAdjust="spacingAndGlyphs" stroke="#262626" stroke-width="0.12">0%</text>
<text x="63.70" y="304.78" font-size="10.0" text-anchor="end" fill="#202020" textLength="19.30" lengthAdjust="spacingAndGlyphs" stroke="#262626" stroke-width="0.12">50%</text>
<text x="63.70" y="289.95" font-size="10.0" text-anchor="end" fill="#202020" textLength="24.50" lengthAdjust="spacingAndGlyphs" stroke="#262626" stroke-width="0.12">100%</text>
<text x="63.70" y="275.12" font-size="10.0" text-anchor="end" fill="#202020" textLength="24.50" lengthAdjust="spacingAndGlyphs" stroke="#262626" stroke-width="0.12">150%</text>
<text x="63.70" y="260.30" font-size="10.0" text-anchor="end" fill="#202020" textLength="25.30" lengthAdjust="spacingAndGlyphs" stroke="#262626" stroke-width="0.12">200%</text>
<text x="73.60" y="333.50" font-size="10.0" text-anchor="middle" fill="#202020" textLength="14.20" lengthAdjust="spacingAndGlyphs" stroke="#262626" stroke-width="0.12">0.1</text>
<text x="104.07" y="333.50" font-size="10.0" text-anchor="middle" fill="#202020" textLength="5.00" lengthAdjust="spacingAndGlyphs" stroke="#262626" stroke-width="0.12">1</text>
<text x="134.33" y="333.50" font-size="10.0" text-anchor="middle" fill="#202020" textLength="11.00" lengthAdjust="spacingAndGlyphs" stroke="#262626" stroke-width="0.12">10</text>
<text x="163.50" y="333.50" font-size="10.0" text-anchor="middle" fill="#202020" textLength="16.40" lengthAdjust="spacingAndGlyphs" stroke="#262626" stroke-width="0.12">100</text>
<text x="176.20" y="333.50" font-size="10.0" fill="#202020" textLength="21.00" lengthAdjust="spacingAndGlyphs" stroke="#262626" stroke-width="0.12">[µM]</text>
<text x="119.10" y="251.40" font-size="9.8" text-anchor="middle" fill="#202020" textLength="21.00" lengthAdjust="spacingAndGlyphs" stroke="#262626" stroke-width="0.12">-S+D</text>
<text transform="translate(35.30,290.00) rotate(-90)" font-size="10.2" text-anchor="middle" fill="#1a80d2" textLength="70.40" lengthAdjust="spacingAndGlyphs" stroke="#1a80d2" stroke-width="0.2">Viral replication</text>
<line x1="74.00" y1="301.28" x2="159.40" y2="301.28" stroke="#222" stroke-width="1" stroke-dasharray="3,2"/>
<line x1="159.40" y1="301.28" x2="159.40" y2="316.10" stroke="#222" stroke-width="1" stroke-dasharray="3,2"/>
<polyline points="74.00,286.45 74.76,286.45 75.52,286.45 76.28,286.45 77.04,286.45 77.80,286.45 78.55,286.45 79.31,286.45 80.07,286.45 80.83,286.45 81.59,286.45 82.35,286.45 83.11,286.45 83.87,286.45 84.63,286.45 85.39,286.45 86.15,286.45 86.91,286.45 87.66,286.45 88.42,286.45 89.18,286.45 89.94,286.45 90.70,286.45 91.46,286.45 92.22,286.45 92.98,286.45 93.74,286.45 94.50,286.45 95.26,286.45 96.02,286.45 96.78,286.45 97.53,286.45 98.29,286.45 99.05,286.45 99.81,286.45 100.57,286.45 101.33,286.45 102.09,286.45 102.85,286.45 103.61,286.45 104.37,286.45 105.13,286.45 105.88,286.45 106.64,286.45 107.40,286.45 108.16,286.45 108.92,286.45 109.68,286.45 110.44,286.46 111.20,286.46 111.96,286.46 112.72,286.46 113.48,286.46 114.24,286.46 115.00,286.46 115.75,286.46 116.51,286.46 117.27,286.47 118.03,286.47 118.79,286.47 119.55,286.47 120.31,286.48 121.07,286.48 121.83,286.49 122.59,286.49 123.35,286.50 124.10,286.50 124.86,286.51 125.62,286.52 126.38,286.53 127.14,286.54 127.90,286.55 128.66,286.57 129.42,286.58 130.18,286.60 130.94,286.63 131.70,286.65 132.46,286.68 133.22,286.71 133.97,286.74 134.73,286.79 135.49,286.83 136.25,286.89 137.01,286.95 137.77,287.01 138.53,287.09 139.29,287.18 140.05,287.28 140.81,287.39 141.57,287.52 142.32,287.66 143.08,287.82 143.84,288.01 144.60,288.21 145.36,288.44 146.12,288.70 146.88,288.99 147.64,289.31 148.40,289.67 149.16,290.06 149.92,290.50 150.68,290.98 151.44,291.51 152.19,292.08 152.95,292.71 153.71,293.38 154.47,294.10 155.23,294.87 155.99,295.68 156.75,296.53 157.51,297.42 158.27,298.35 159.03,299.29 159.79,300.25 160.55,301.23 161.30,302.20 162.06,303.16 162.82,304.11 163.58,305.03 164.34,305.93 165.10,306.79" fill="none" stroke="#0b93d8" stroke-width="1.7"/>
<line x1="95.23" y1="276.70" x2="95.23" y2="292.30" stroke="#3a3a3a" stroke-width="1.1"/>
<line x1="93.63" y1="276.70" x2="96.83" y2="276.70" stroke="#3a3a3a" stroke-width="1.1"/>
<line x1="93.63" y1="292.30" x2="96.83" y2="292.30" stroke="#3a3a3a" stroke-width="1.1"/>
<polygon points="95.23,281.90 98.13,284.80 95.23,287.70 92.33,284.80" fill="#12a7ee"/>
<line x1="104.37" y1="276.70" x2="104.37" y2="290.60" stroke="#3a3a3a" stroke-width="1.1"/>
<line x1="102.77" y1="276.70" x2="105.97" y2="276.70" stroke="#3a3a3a" stroke-width="1.1"/>
<line x1="102.77" y1="290.60" x2="105.97" y2="290.60" stroke="#3a3a3a" stroke-width="1.1"/>
<polygon points="104.37,280.10 107.27,283.00 104.37,285.90 101.47,283.00" fill="#12a7ee"/>
<line x1="113.51" y1="280.60" x2="113.51" y2="294.10" stroke="#3a3a3a" stroke-width="1.1"/>
<line x1="111.91" y1="280.60" x2="115.11" y2="280.60" stroke="#3a3a3a" stroke-width="1.1"/>
<line x1="111.91" y1="294.10" x2="115.11" y2="294.10" stroke="#3a3a3a" stroke-width="1.1"/>
<polygon points="113.51,284.20 116.41,287.10 113.51,290.00 110.61,287.10" fill="#12a7ee"/>
<line x1="122.65" y1="281.30" x2="122.65" y2="288.30" stroke="#3a3a3a" stroke-width="1.1"/>
<line x1="121.05" y1="281.30" x2="124.25" y2="281.30" stroke="#3a3a3a" stroke-width="1.1"/>
<line x1="121.05" y1="288.30" x2="124.25" y2="288.30" stroke="#3a3a3a" stroke-width="1.1"/>
<polygon points="122.65,281.90 125.55,284.80 122.65,287.70 119.75,284.80" fill="#12a7ee"/>
<line x1="131.79" y1="279.10" x2="131.79" y2="287.50" stroke="#3a3a3a" stroke-width="1.1"/>
<line x1="130.19" y1="279.10" x2="133.39" y2="279.10" stroke="#3a3a3a" stroke-width="1.1"/>
<line x1="130.19" y1="287.50" x2="133.39" y2="287.50" stroke="#3a3a3a" stroke-width="1.1"/>
<polygon points="131.79,280.50 134.69,283.40 131.79,286.30 128.89,283.40" fill="#12a7ee"/>
<circle cx="140.93" cy="293.00" r="2.5" fill="#12a7ee"/>
<line x1="150.07" y1="285.20" x2="150.07" y2="300.10" stroke="#3a3a3a" stroke-width="1.1"/>
<line x1="148.47" y1="285.20" x2="151.67" y2="285.20" stroke="#3a3a3a" stroke-width="1.1"/>
<line x1="148.47" y1="300.10" x2="151.67" y2="300.10" stroke="#3a3a3a" stroke-width="1.1"/>
<polygon points="150.07,289.60 152.97,292.50 150.07,295.40 147.17,292.50" fill="#12a7ee"/>
<line x1="258.20" y1="301.08" x2="348.50" y2="301.08" stroke="#d9d9d9" stroke-width="1"/>
<line x1="258.20" y1="286.05" x2="348.50" y2="286.05" stroke="#d9d9d9" stroke-width="1"/>
<line x1="258.20" y1="271.02" x2="348.50" y2="271.02" stroke="#d9d9d9" stroke-width="1"/>
<line x1="258.20" y1="256.00" x2="348.50" y2="256.00" stroke="#d9d9d9" stroke-width="1"/>
<line x1="288.30" y1="256.00" x2="288.30" y2="316.10" stroke="#d9d9d9" stroke-width="1"/>
<line x1="318.40" y1="256.00" x2="318.40" y2="316.10" stroke="#d9d9d9" stroke-width="1"/>
<line x1="348.50" y1="256.00" x2="348.50" y2="316.10" stroke="#d9d9d9" stroke-width="1"/>
<line x1="258.20" y1="255.50" x2="258.20" y2="316.60" stroke="#4a4a4a" stroke-width="1.1"/>
<line x1="258.20" y1="316.10" x2="348.50" y2="316.10" stroke="#4a4a4a" stroke-width="1.0"/>
<line x1="255.00" y1="316.10" x2="258.20" y2="316.10" stroke="#404040" stroke-width="1"/>
<line x1="255.00" y1="301.08" x2="258.20" y2="301.08" stroke="#404040" stroke-width="1"/>
<line x1="255.00" y1="286.05" x2="258.20" y2="286.05" stroke="#404040" stroke-width="1"/>
<line x1="255.00" y1="271.02" x2="258.20" y2="271.02" stroke="#404040" stroke-width="1"/>
<line x1="255.00" y1="256.00" x2="258.20" y2="256.00" stroke="#404040" stroke-width="1"/>
<line x1="258.20" y1="316.10" x2="258.20" y2="319.40" stroke="#404040" stroke-width="1"/>
<line x1="288.30" y1="316.10" x2="288.30" y2="319.40" stroke="#404040" stroke-width="1"/>
<line x1="318.40" y1="316.10" x2="318.40" y2="319.40" stroke="#404040" stroke-width="1"/>
<line x1="348.50" y1="316.10" x2="348.50" y2="319.40" stroke="#404040" stroke-width="1"/>
<text x="247.90" y="319.60" font-size="10.0" text-anchor="end" fill="#202020" textLength="14.10" lengthAdjust="spacingAndGlyphs" stroke="#262626" stroke-width="0.12">0%</text>
<text x="247.90" y="304.58" font-size="10.0" text-anchor="end" fill="#202020" textLength="19.30" lengthAdjust="spacingAndGlyphs" stroke="#262626" stroke-width="0.12">50%</text>
<text x="247.90" y="289.55" font-size="10.0" text-anchor="end" fill="#202020" textLength="24.50" lengthAdjust="spacingAndGlyphs" stroke="#262626" stroke-width="0.12">100%</text>
<text x="247.90" y="274.52" font-size="10.0" text-anchor="end" fill="#202020" textLength="24.50" lengthAdjust="spacingAndGlyphs" stroke="#262626" stroke-width="0.12">150%</text>
<text x="247.90" y="259.50" font-size="10.0" text-anchor="end" fill="#202020" textLength="25.30" lengthAdjust="spacingAndGlyphs" stroke="#262626" stroke-width="0.12">200%</text>
<text x="257.80" y="333.50" font-size="10.0" text-anchor="middle" fill="#202020" textLength="14.20" lengthAdjust="spacingAndGlyphs" stroke="#262626" stroke-width="0.12">0.1</text>
<text x="288.00" y="333.50" font-size="10.0" text-anchor="middle" fill="#202020" textLength="5.00" lengthAdjust="spacingAndGlyphs" stroke="#262626" stroke-width="0.12">1</text>
<text x="318.00" y="333.50" font-size="10.0" text-anchor="middle" fill="#202020" textLength="11.00" lengthAdjust="spacingAndGlyphs" stroke="#262626" stroke-width="0.12">10</text>
<text x="348.60" y="333.50" font-size="10.0" text-anchor="middle" fill="#202020" textLength="16.40" lengthAdjust="spacingAndGlyphs" stroke="#262626" stroke-width="0.12">100</text>
<text x="360.20" y="333.50" font-size="10.0" fill="#202020" textLength="22.40" lengthAdjust="spacingAndGlyphs" stroke="#262626" stroke-width="0.12">[µM]</text>
<text x="302.50" y="251.00" font-size="9.8" text-anchor="middle" fill="#202020" textLength="21.50" lengthAdjust="spacingAndGlyphs" stroke="#262626" stroke-width="0.12">+S-D</text>
<text transform="translate(219.80,290.00) rotate(-90)" font-size="10.2" text-anchor="middle" fill="#1a80d2" textLength="70.40" lengthAdjust="spacingAndGlyphs" stroke="#1a80d2" stroke-width="0.2">Viral replication</text>
<line x1="258.20" y1="301.08" x2="335.00" y2="301.08" stroke="#222" stroke-width="1" stroke-dasharray="3,2"/>
<line x1="335.00" y1="301.08" x2="335.00" y2="316.10" stroke="#222" stroke-width="1" stroke-dasharray="3,2"/>
<polyline points="258.20,286.63 258.95,286.65 259.70,286.67 260.46,286.70 261.21,286.72 261.96,286.75 262.71,286.78 263.47,286.80 264.22,286.83 264.97,286.86 265.72,286.89 266.48,286.92 267.23,286.96 267.98,286.99 268.74,287.03 269.49,287.07 270.24,287.10 270.99,287.14 271.75,287.18 272.50,287.23 273.25,287.27 274.00,287.32 274.75,287.37 275.51,287.41 276.26,287.47 277.01,287.52 277.76,287.57 278.52,287.63 279.27,287.69 280.02,287.75 280.77,287.81 281.53,287.88 282.28,287.94 283.03,288.01 283.78,288.08 284.54,288.16 285.29,288.24 286.04,288.31 286.80,288.40 287.55,288.48 288.30,288.57 289.05,288.66 289.81,288.75 290.56,288.85 291.31,288.95 292.06,289.05 292.81,289.15 293.57,289.26 294.32,289.37 295.07,289.49 295.82,289.61 296.58,289.73 297.33,289.86 298.08,289.99 298.83,290.12 299.59,290.26 300.34,290.40 301.09,290.54 301.84,290.69 302.60,290.85 303.35,291.00 304.10,291.16 304.86,291.33 305.61,291.50 306.36,291.67 307.11,291.85 307.87,292.03 308.62,292.22 309.37,292.41 310.12,292.60 310.88,292.80 311.63,293.01 312.38,293.21 313.13,293.43 313.88,293.64 314.64,293.86 315.39,294.09 316.14,294.32 316.89,294.55 317.65,294.78 318.40,295.02 319.15,295.27 319.90,295.52 320.66,295.77 321.41,296.02 322.16,296.28 322.91,296.54 323.67,296.80 324.42,297.07 325.17,297.34 325.93,297.61 326.68,297.89 327.43,298.16 328.18,298.44 328.94,298.72 329.69,299.01 330.44,299.29 331.19,299.58 331.94,299.86 332.70,300.15 333.45,300.44 334.20,300.73 334.95,301.02 335.71,301.30 336.46,301.59 337.21,301.88 337.97,302.17 338.72,302.46 339.47,302.74 340.22,303.03 340.98,303.31 341.73,303.59 342.48,303.87 343.23,304.15 343.99,304.43 344.74,304.70 345.49,304.97 346.24,305.24 347.00,305.50 347.75,305.77 348.50,306.02" fill="none" stroke="#0b93d8" stroke-width="1.7"/>
<line x1="279.24" y1="278.30" x2="279.24" y2="286.50" stroke="#3a3a3a" stroke-width="1.1"/>
<line x1="277.64" y1="278.30" x2="280.84" y2="278.30" stroke="#3a3a3a" stroke-width="1.1"/>
<line x1="277.64" y1="286.50" x2="280.84" y2="286.50" stroke="#3a3a3a" stroke-width="1.1"/>
<polygon points="279.24,279.60 282.14,282.50 279.24,285.40 276.34,282.50" fill="#12a7ee"/>
<line x1="288.30" y1="290.00" x2="288.30" y2="297.60" stroke="#3a3a3a" stroke-width="1.1"/>
<line x1="286.70" y1="290.00" x2="289.90" y2="290.00" stroke="#3a3a3a" stroke-width="1.1"/>
<line x1="286.70" y1="297.60" x2="289.90" y2="297.60" stroke="#3a3a3a" stroke-width="1.1"/>
<polygon points="288.30,291.20 291.20,294.10 288.30,297.00 285.40,294.10" fill="#12a7ee"/>
<line x1="297.36" y1="286.50" x2="297.36" y2="296.50" stroke="#3a3a3a" stroke-width="1.1"/>
<line x1="295.76" y1="286.50" x2="298.96" y2="286.50" stroke="#3a3a3a" stroke-width="1.1"/>
<line x1="295.76" y1="296.50" x2="298.96" y2="296.50" stroke="#3a3a3a" stroke-width="1.1"/>
<polygon points="297.36,288.90 300.26,291.80 297.36,294.70 294.46,291.80" fill="#12a7ee"/>
<line x1="306.42" y1="281.80" x2="306.42" y2="301.10" stroke="#3a3a3a" stroke-width="1.1"/>
<line x1="304.82" y1="281.80" x2="308.02" y2="281.80" stroke="#3a3a3a" stroke-width="1.1"/>
<line x1="304.82" y1="301.10" x2="308.02" y2="301.10" stroke="#3a3a3a" stroke-width="1.1"/>
<polygon points="306.42,288.90 309.32,291.80 306.42,294.70 303.52,291.80" fill="#12a7ee"/>
<line x1="315.48" y1="287.60" x2="315.48" y2="301.10" stroke="#3a3a3a" stroke-width="1.1"/>
<line x1="313.88" y1="287.60" x2="317.08" y2="287.60" stroke="#3a3a3a" stroke-width="1.1"/>
<line x1="313.88" y1="301.10" x2="317.08" y2="301.10" stroke="#3a3a3a" stroke-width="1.1"/>
<polygon points="315.48,291.20 318.38,294.10 315.48,297.00 312.58,294.10" fill="#12a7ee"/>
<line x1="324.54" y1="289.50" x2="324.54" y2="300.70" stroke="#3a3a3a" stroke-width="1.1"/>
<line x1="322.94" y1="289.50" x2="326.14" y2="289.50" stroke="#3a3a3a" stroke-width="1.1"/>
<line x1="322.94" y1="300.70" x2="326.14" y2="300.70" stroke="#3a3a3a" stroke-width="1.1"/>
<polygon points="324.54,292.40 327.44,295.30 324.54,298.20 321.64,295.30" fill="#12a7ee"/>
<line x1="333.61" y1="300.00" x2="333.61" y2="303.20" stroke="#3a3a3a" stroke-width="1.1"/>
<line x1="332.01" y1="300.00" x2="335.21" y2="300.00" stroke="#3a3a3a" stroke-width="1.1"/>
<line x1="332.01" y1="303.20" x2="335.21" y2="303.20" stroke="#3a3a3a" stroke-width="1.1"/>
<polygon points="333.61,298.70 336.51,301.60 333.61,304.50 330.71,301.60" fill="#12a7ee"/>
<line x1="74.50" y1="403.15" x2="166.30" y2="403.15" stroke="#d9d9d9" stroke-width="1"/>
<line x1="74.50" y1="388.20" x2="166.30" y2="388.20" stroke="#d9d9d9" stroke-width="1"/>
<line x1="74.50" y1="373.25" x2="166.30" y2="373.25" stroke="#d9d9d9" stroke-width="1"/>
<line x1="74.50" y1="358.30" x2="166.30" y2="358.30" stroke="#d9d9d9" stroke-width="1"/>
<line x1="105.10" y1="358.30" x2="105.10" y2="418.10" stroke="#d9d9d9" stroke-width="1"/>
<line x1="135.70" y1="358.30" x2="135.70" y2="418.10" stroke="#d9d9d9" stroke-width="1"/>
<line x1="166.30" y1="358.30" x2="166.30" y2="418.10" stroke="#d9d9d9" stroke-width="1"/>
<line x1="74.50" y1="357.80" x2="74.50" y2="418.60" stroke="#555555" stroke-width="1.2"/>
<line x1="74.50" y1="418.10" x2="166.30" y2="418.10" stroke="#4a4a4a" stroke-width="1.0"/>
<line x1="71.30" y1="418.10" x2="74.50" y2="418.10" stroke="#404040" stroke-width="1"/>
<line x1="71.30" y1="403.15" x2="74.50" y2="403.15" stroke="#404040" stroke-width="1"/>
<line x1="71.30" y1="388.20" x2="74.50" y2="388.20" stroke="#404040" stroke-width="1"/>
<line x1="71.30" y1="373.25" x2="74.50" y2="373.25" stroke="#404040" stroke-width="1"/>
<line x1="71.30" y1="358.30" x2="74.50" y2="358.30" stroke="#404040" stroke-width="1"/>
<line x1="74.50" y1="418.10" x2="74.50" y2="421.40" stroke="#404040" stroke-width="1"/>
<line x1="105.10" y1="418.10" x2="105.10" y2="421.40" stroke="#404040" stroke-width="1"/>
<line x1="135.70" y1="418.10" x2="135.70" y2="421.40" stroke="#404040" stroke-width="1"/>
<line x1="166.30" y1="418.10" x2="166.30" y2="421.40" stroke="#404040" stroke-width="1"/>
<text x="64.20" y="421.60" font-size="10.0" text-anchor="end" fill="#202020" textLength="14.10" lengthAdjust="spacingAndGlyphs" stroke="#262626" stroke-width="0.12">0%</text>
<text x="64.20" y="406.65" font-size="10.0" text-anchor="end" fill="#202020" textLength="19.30" lengthAdjust="spacingAndGlyphs" stroke="#262626" stroke-width="0.12">50%</text>
<text x="64.20" y="391.70" font-size="10.0" text-anchor="end" fill="#202020" textLength="24.50" lengthAdjust="spacingAndGlyphs" stroke="#262626" stroke-width="0.12">100%</text>
<text x="64.20" y="376.75" font-size="10.0" text-anchor="end" fill="#202020" textLength="24.50" lengthAdjust="spacingAndGlyphs" stroke="#262626" stroke-width="0.12">150%</text>
<text x="64.20" y="361.80" font-size="10.0" text-anchor="end" fill="#202020" textLength="25.30" lengthAdjust="spacingAndGlyphs" stroke="#262626" stroke-width="0.12">200%</text>
<text x="74.10" y="435.50" font-size="10.0" text-anchor="middle" fill="#202020" textLength="14.20" lengthAdjust="spacingAndGlyphs" stroke="#262626" stroke-width="0.12">0.1</text>
<text x="104.80" y="435.50" font-size="10.0" text-anchor="middle" fill="#202020" textLength="5.00" lengthAdjust="spacingAndGlyphs" stroke="#262626" stroke-width="0.12">1</text>
<text x="135.30" y="435.50" font-size="10.0" text-anchor="middle" fill="#202020" textLength="11.00" lengthAdjust="spacingAndGlyphs" stroke="#262626" stroke-width="0.12">10</text>
<text x="163.50" y="435.50" font-size="10.0" text-anchor="middle" fill="#202020" textLength="16.40" lengthAdjust="spacingAndGlyphs" stroke="#262626" stroke-width="0.12">100</text>
<text x="176.20" y="435.50" font-size="10.0" fill="#202020" textLength="21.00" lengthAdjust="spacingAndGlyphs" stroke="#262626" stroke-width="0.12">[µM]</text>
<text x="117.80" y="353.30" font-size="9.8" text-anchor="middle" fill="#202020" textLength="19.00" lengthAdjust="spacingAndGlyphs" stroke="#262626" stroke-width="0.12">-S-D</text>
<text transform="translate(36.30,391.20) rotate(-90)" font-size="10.2" text-anchor="middle" fill="#1a80d2" textLength="71.20" lengthAdjust="spacingAndGlyphs" stroke="#1a80d2" stroke-width="0.2">Viral replication</text>
<line x1="74.50" y1="403.15" x2="158.40" y2="403.15" stroke="#222" stroke-width="1" stroke-dasharray="3,2"/>
<line x1="158.40" y1="403.15" x2="158.40" y2="418.10" stroke="#222" stroke-width="1" stroke-dasharray="3,2"/>
<polyline points="74.50,388.26 75.27,388.26 76.03,388.26 76.80,388.27 77.56,388.27 78.33,388.27 79.09,388.28 79.86,388.28 80.62,388.29 81.39,388.29 82.15,388.30 82.92,388.30 83.68,388.31 84.44,388.32 85.21,388.32 85.97,388.33 86.74,388.34 87.50,388.35 88.27,388.36 89.03,388.36 89.80,388.37 90.56,388.38 91.33,388.40 92.09,388.41 92.86,388.42 93.62,388.43 94.39,388.45 95.16,388.46 95.92,388.47 96.69,388.49 97.45,388.51 98.22,388.53 98.98,388.55 99.75,388.57 100.51,388.59 101.28,388.61 102.04,388.63 102.81,388.66 103.57,388.69 104.34,388.71 105.10,388.74 105.87,388.78 106.63,388.81 107.40,388.84 108.16,388.88 108.93,388.92 109.69,388.96 110.46,389.01 111.22,389.05 111.99,389.10 112.75,389.15 113.52,389.21 114.28,389.27 115.05,389.33 115.81,389.39 116.58,389.46 117.34,389.53 118.11,389.60 118.87,389.68 119.64,389.77 120.40,389.85 121.17,389.95 121.93,390.04 122.70,390.15 123.46,390.25 124.23,390.37 124.99,390.48 125.75,390.61 126.52,390.74 127.28,390.88 128.05,391.02 128.81,391.17 129.58,391.33 130.34,391.49 131.11,391.67 131.88,391.85 132.64,392.03 133.41,392.23 134.17,392.44 134.94,392.65 135.70,392.87 136.47,393.10 137.23,393.34 138.00,393.59 138.76,393.85 139.53,394.12 140.29,394.40 141.06,394.69 141.82,394.98 142.59,395.29 143.35,395.61 144.12,395.93 144.88,396.27 145.65,396.61 146.41,396.96 147.18,397.32 147.94,397.69 148.70,398.07 149.47,398.45 150.24,398.85 151.00,399.24 151.77,399.65 152.53,400.06 153.30,400.47 154.06,400.89 154.83,401.31 155.59,401.74 156.36,402.16 157.12,402.59 157.88,403.02 158.65,403.45 159.42,403.88 160.18,404.31 160.94,404.74 161.71,405.16 162.48,405.58 163.24,406.00 164.01,406.41 164.77,406.82 165.54,407.22 166.30,407.62" fill="none" stroke="#0b93d8" stroke-width="1.7"/>
<line x1="95.89" y1="388.80" x2="95.89" y2="400.00" stroke="#3a3a3a" stroke-width="1.1"/>
<line x1="94.29" y1="388.80" x2="97.49" y2="388.80" stroke="#3a3a3a" stroke-width="1.1"/>
<line x1="94.29" y1="400.00" x2="97.49" y2="400.00" stroke="#3a3a3a" stroke-width="1.1"/>
<polygon points="95.89,391.70 98.79,394.60 95.89,397.50 92.99,394.60" fill="#12a7ee"/>
<line x1="105.10" y1="383.40" x2="105.10" y2="400.00" stroke="#3a3a3a" stroke-width="1.1"/>
<line x1="103.50" y1="383.40" x2="106.70" y2="383.40" stroke="#3a3a3a" stroke-width="1.1"/>
<line x1="103.50" y1="400.00" x2="106.70" y2="400.00" stroke="#3a3a3a" stroke-width="1.1"/>
<polygon points="105.10,388.90 108.00,391.80 105.10,394.70 102.20,391.80" fill="#12a7ee"/>
<line x1="114.31" y1="371.30" x2="114.31" y2="400.90" stroke="#3a3a3a" stroke-width="1.1"/>
<line x1="112.71" y1="371.30" x2="115.91" y2="371.30" stroke="#3a3a3a" stroke-width="1.1"/>
<line x1="112.71" y1="400.90" x2="115.91" y2="400.90" stroke="#3a3a3a" stroke-width="1.1"/>
<polygon points="114.31,383.10 117.21,386.00 114.31,388.90 111.41,386.00" fill="#12a7ee"/>
<line x1="123.52" y1="375.30" x2="123.52" y2="397.40" stroke="#3a3a3a" stroke-width="1.1"/>
<line x1="121.92" y1="375.30" x2="125.12" y2="375.30" stroke="#3a3a3a" stroke-width="1.1"/>
<line x1="121.92" y1="397.40" x2="125.12" y2="397.40" stroke="#3a3a3a" stroke-width="1.1"/>
<polygon points="123.52,383.10 126.42,386.00 123.52,388.90 120.62,386.00" fill="#12a7ee"/>
<line x1="132.73" y1="386.00" x2="132.73" y2="399.30" stroke="#3a3a3a" stroke-width="1.1"/>
<line x1="131.13" y1="386.00" x2="134.33" y2="386.00" stroke="#3a3a3a" stroke-width="1.1"/>
<line x1="131.13" y1="399.30" x2="134.33" y2="399.30" stroke="#3a3a3a" stroke-width="1.1"/>
<polygon points="132.73,389.90 135.63,392.80 132.73,395.70 129.83,392.80" fill="#12a7ee"/>
<line x1="141.95" y1="396.50" x2="141.95" y2="401.60" stroke="#3a3a3a" stroke-width="1.1"/>
<line x1="140.35" y1="396.50" x2="143.55" y2="396.50" stroke="#3a3a3a" stroke-width="1.1"/>
<line x1="140.35" y1="401.60" x2="143.55" y2="401.60" stroke="#3a3a3a" stroke-width="1.1"/>
<polygon points="141.95,396.40 144.85,399.30 141.95,402.20 139.05,399.30" fill="#12a7ee"/>
<line x1="151.16" y1="392.30" x2="151.16" y2="403.30" stroke="#3a3a3a" stroke-width="1.1"/>
<line x1="149.56" y1="392.30" x2="152.76" y2="392.30" stroke="#3a3a3a" stroke-width="1.1"/>
<line x1="149.56" y1="403.30" x2="152.76" y2="403.30" stroke="#3a3a3a" stroke-width="1.1"/>
<polygon points="151.16,395.20 154.06,398.10 151.16,401.00 148.26,398.10" fill="#12a7ee"/>
<line x1="257.60" y1="403.05" x2="348.30" y2="403.05" stroke="#d9d9d9" stroke-width="1"/>
<line x1="257.60" y1="387.90" x2="348.30" y2="387.90" stroke="#d9d9d9" stroke-width="1"/>
<line x1="257.60" y1="372.75" x2="348.30" y2="372.75" stroke="#d9d9d9" stroke-width="1"/>
<line x1="257.60" y1="357.60" x2="348.30" y2="357.60" stroke="#d9d9d9" stroke-width="1"/>
<line x1="287.83" y1="357.60" x2="287.83" y2="418.20" stroke="#d9d9d9" stroke-width="1"/>
<line x1="318.07" y1="357.60" x2="318.07" y2="418.20" stroke="#d9d9d9" stroke-width="1"/>
<line x1="348.30" y1="357.60" x2="348.30" y2="418.20" stroke="#d9d9d9" stroke-width="1"/>
<line x1="257.60" y1="357.10" x2="257.60" y2="418.70" stroke="#8a8a8a" stroke-width="1.6"/>
<line x1="257.60" y1="418.20" x2="348.30" y2="418.20" stroke="#4a4a4a" stroke-width="1.0"/>
<line x1="254.40" y1="418.20" x2="257.60" y2="418.20" stroke="#404040" stroke-width="1"/>
<line x1="254.40" y1="403.05" x2="257.60" y2="403.05" stroke="#404040" stroke-width="1"/>
<line x1="254.40" y1="387.90" x2="257.60" y2="387.90" stroke="#404040" stroke-width="1"/>
<line x1="254.40" y1="372.75" x2="257.60" y2="372.75" stroke="#404040" stroke-width="1"/>
<line x1="254.40" y1="357.60" x2="257.60" y2="357.60" stroke="#404040" stroke-width="1"/>
<line x1="257.60" y1="418.20" x2="257.60" y2="421.50" stroke="#404040" stroke-width="1"/>
<line x1="287.83" y1="418.20" x2="287.83" y2="421.50" stroke="#404040" stroke-width="1"/>
<line x1="318.07" y1="418.20" x2="318.07" y2="421.50" stroke="#404040" stroke-width="1"/>
<line x1="348.30" y1="418.20" x2="348.30" y2="421.50" stroke="#404040" stroke-width="1"/>
<text x="247.30" y="421.70" font-size="10.0" text-anchor="end" fill="#202020" textLength="14.10" lengthAdjust="spacingAndGlyphs" stroke="#262626" stroke-width="0.12">0%</text>
<text x="247.30" y="406.55" font-size="10.0" text-anchor="end" fill="#202020" textLength="19.30" lengthAdjust="spacingAndGlyphs" stroke="#262626" stroke-width="0.12">50%</text>
<text x="247.30" y="391.40" font-size="10.0" text-anchor="end" fill="#202020" textLength="24.50" lengthAdjust="spacingAndGlyphs" stroke="#262626" stroke-width="0.12">100%</text>
<text x="247.30" y="376.25" font-size="10.0" text-anchor="end" fill="#202020" textLength="24.50" lengthAdjust="spacingAndGlyphs" stroke="#262626" stroke-width="0.12">150%</text>
<text x="247.30" y="361.10" font-size="10.0" text-anchor="end" fill="#202020" textLength="25.30" lengthAdjust="spacingAndGlyphs" stroke="#262626" stroke-width="0.12">200%</text>
<text x="257.20" y="435.60" font-size="10.0" text-anchor="middle" fill="#202020" textLength="14.20" lengthAdjust="spacingAndGlyphs" stroke="#262626" stroke-width="0.12">0.1</text>
<text x="287.53" y="435.60" font-size="10.0" text-anchor="middle" fill="#202020" textLength="5.00" lengthAdjust="spacingAndGlyphs" stroke="#262626" stroke-width="0.12">1</text>
<text x="317.67" y="435.60" font-size="10.0" text-anchor="middle" fill="#202020" textLength="11.00" lengthAdjust="spacingAndGlyphs" stroke="#262626" stroke-width="0.12">10</text>
<text x="348.60" y="435.60" font-size="10.0" text-anchor="middle" fill="#202020" textLength="16.40" lengthAdjust="spacingAndGlyphs" stroke="#262626" stroke-width="0.12">100</text>
<text x="360.20" y="435.60" font-size="10.0" fill="#202020" textLength="22.40" lengthAdjust="spacingAndGlyphs" stroke="#262626" stroke-width="0.12">[µM]</text>
<text x="303.10" y="353.30" font-size="9.8" text-anchor="middle" fill="#202020" textLength="19.00" lengthAdjust="spacingAndGlyphs" stroke="#262626" stroke-width="0.12">-S-D</text>
<text transform="translate(220.50,391.20) rotate(-90)" font-size="10.2" text-anchor="middle" fill="#1a80d2" textLength="71.20" lengthAdjust="spacingAndGlyphs" stroke="#1a80d2" stroke-width="0.2">Viral replication</text>
<line x1="257.60" y1="403.05" x2="340.20" y2="403.05" stroke="#222" stroke-width="1" stroke-dasharray="3,2"/>
<line x1="340.20" y1="403.05" x2="340.20" y2="418.20" stroke="#222" stroke-width="1" stroke-dasharray="3,2"/>
<polyline points="257.60,388.12 258.36,388.13 259.11,388.14 259.87,388.16 260.62,388.17 261.38,388.18 262.14,388.19 262.89,388.21 263.65,388.22 264.40,388.23 265.16,388.25 265.91,388.27 266.67,388.28 267.43,388.30 268.18,388.32 268.94,388.34 269.69,388.36 270.45,388.38 271.21,388.40 271.96,388.42 272.72,388.44 273.47,388.47 274.23,388.49 274.98,388.52 275.74,388.55 276.50,388.58 277.25,388.61 278.01,388.64 278.76,388.67 279.52,388.71 280.28,388.74 281.03,388.78 281.79,388.82 282.54,388.86 283.30,388.90 284.05,388.95 284.81,388.99 285.57,389.04 286.32,389.09 287.08,389.15 287.83,389.20 288.59,389.26 289.35,389.32 290.10,389.38 290.86,389.44 291.61,389.51 292.37,389.58 293.12,389.65 293.88,389.73 294.64,389.81 295.39,389.89 296.15,389.97 296.90,390.06 297.66,390.16 298.42,390.25 299.17,390.35 299.93,390.45 300.68,390.56 301.44,390.67 302.19,390.79 302.95,390.91 303.71,391.03 304.46,391.16 305.22,391.29 305.97,391.43 306.73,391.57 307.49,391.72 308.24,391.87 309.00,392.03 309.75,392.19 310.51,392.36 311.26,392.53 312.02,392.71 312.78,392.90 313.53,393.09 314.29,393.28 315.04,393.48 315.80,393.69 316.56,393.90 317.31,394.12 318.07,394.35 318.82,394.58 319.58,394.82 320.33,395.06 321.09,395.31 321.85,395.56 322.60,395.82 323.36,396.09 324.11,396.36 324.87,396.63 325.62,396.91 326.38,397.20 327.14,397.49 327.89,397.79 328.65,398.09 329.40,398.40 330.16,398.71 330.92,399.02 331.67,399.34 332.43,399.66 333.18,399.99 333.94,400.31 334.70,400.64 335.45,400.98 336.21,401.31 336.96,401.65 337.72,401.99 338.47,402.32 339.23,402.66 339.99,403.00 340.74,403.34 341.50,403.68 342.25,404.02 343.01,404.36 343.76,404.70 344.52,405.03 345.28,405.37 346.03,405.70 346.79,406.03 347.54,406.35 348.30,406.67" fill="none" stroke="#0b93d8" stroke-width="1.7"/>
<line x1="278.73" y1="357.60" x2="278.73" y2="369.50" stroke="#3a3a3a" stroke-width="1.1"/>
<line x1="277.13" y1="357.60" x2="280.33" y2="357.60" stroke="#3a3a3a" stroke-width="1.1"/>
<line x1="277.13" y1="369.50" x2="280.33" y2="369.50" stroke="#3a3a3a" stroke-width="1.1"/>
<polygon points="278.73,360.60 281.63,363.50 278.73,366.40 275.83,363.50" fill="#12a7ee"/>
<line x1="287.83" y1="360.50" x2="287.83" y2="394.30" stroke="#3a3a3a" stroke-width="1.1"/>
<line x1="286.23" y1="360.50" x2="289.43" y2="360.50" stroke="#3a3a3a" stroke-width="1.1"/>
<line x1="286.23" y1="394.30" x2="289.43" y2="394.30" stroke="#3a3a3a" stroke-width="1.1"/>
<polygon points="287.83,374.60 290.73,377.50 287.83,380.40 284.93,377.50" fill="#12a7ee"/>
<line x1="296.93" y1="376.10" x2="296.93" y2="400.10" stroke="#3a3a3a" stroke-width="1.1"/>
<line x1="295.33" y1="376.10" x2="298.53" y2="376.10" stroke="#3a3a3a" stroke-width="1.1"/>
<line x1="295.33" y1="400.10" x2="298.53" y2="400.10" stroke="#3a3a3a" stroke-width="1.1"/>
<polygon points="296.93,385.60 299.83,388.50 296.93,391.40 294.03,388.50" fill="#12a7ee"/>
<line x1="306.04" y1="382.60" x2="306.04" y2="407.10" stroke="#3a3a3a" stroke-width="1.1"/>
<line x1="304.44" y1="382.60" x2="307.64" y2="382.60" stroke="#3a3a3a" stroke-width="1.1"/>
<line x1="304.44" y1="407.10" x2="307.64" y2="407.10" stroke="#3a3a3a" stroke-width="1.1"/>
<polygon points="306.04,391.90 308.94,394.80 306.04,397.70 303.14,394.80" fill="#12a7ee"/>
<line x1="315.14" y1="405.50" x2="315.14" y2="416.40" stroke="#3a3a3a" stroke-width="1.1"/>
<line x1="313.54" y1="405.50" x2="316.74" y2="405.50" stroke="#3a3a3a" stroke-width="1.1"/>
<line x1="313.54" y1="416.40" x2="316.74" y2="416.40" stroke="#3a3a3a" stroke-width="1.1"/>
<polygon points="315.14,408.90 318.04,411.80 315.14,414.70 312.24,411.80" fill="#12a7ee"/>
<line x1="324.24" y1="387.30" x2="324.24" y2="400.10" stroke="#3a3a3a" stroke-width="1.1"/>
<line x1="322.64" y1="387.30" x2="325.84" y2="387.30" stroke="#3a3a3a" stroke-width="1.1"/>
<line x1="322.64" y1="400.10" x2="325.84" y2="400.10" stroke="#3a3a3a" stroke-width="1.1"/>
<polygon points="324.24,390.90 327.14,393.80 324.24,396.70 321.34,393.80" fill="#12a7ee"/>
<line x1="333.34" y1="373.30" x2="333.34" y2="414.10" stroke="#3a3a3a" stroke-width="1.1"/>
<line x1="331.74" y1="373.30" x2="334.94" y2="373.30" stroke="#3a3a3a" stroke-width="1.1"/>
<line x1="331.74" y1="414.10" x2="334.94" y2="414.10" stroke="#3a3a3a" stroke-width="1.1"/>
<polygon points="333.34,390.70 336.24,393.60 333.34,396.50 330.44,393.60" fill="#12a7ee"/>
</svg>
</body></html>
